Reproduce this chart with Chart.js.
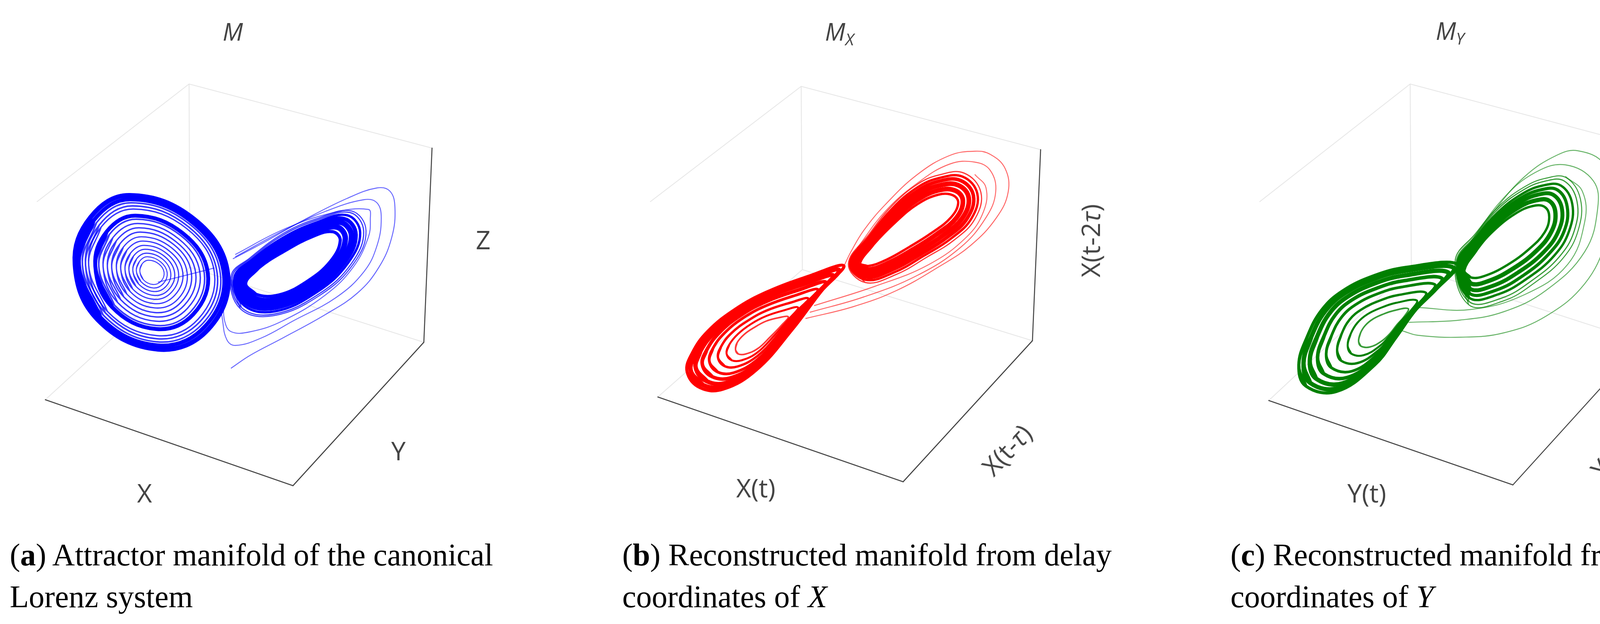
<!DOCTYPE html>
<html>
<head>
<meta charset="utf-8">
<script src="https://cdn.jsdelivr.net/npm/chart.js@4.4.1/dist/chart.umd.min.js"></script>
<style>
html,body{margin:0;padding:0;background:#fff;width:4427px;height:1597px;overflow:hidden;position:relative}
#wrap{position:absolute;left:0;top:0;width:4427px;height:1330px}
.lbl{position:absolute;font-family:"Open Sans",sans-serif;font-size:66px;color:#444;transform:translate(-50%,-50%);white-space:nowrap;line-height:1}
.ttl{position:absolute;font-family:"Open Sans",sans-serif;font-size:62px;color:#444;transform:translate(-50%,-50%);white-space:nowrap;line-height:1;font-style:italic}
.ttl .sub{font-size:0.68em;position:relative;top:0.28em}
.cap{position:absolute;top:1367px;font-family:"Liberation Serif","Times New Roman",serif;font-size:80px;line-height:107px;color:#000;white-space:nowrap}
</style>
</head>
<body>
<div id="wrap"><canvas id="c" width="4427" height="1330" style="width:4427px;height:1330px"></canvas></div>

<div class="ttl" style="left:596px;top:80px">M</div>
<div class="ttl" style="left:2149px;top:80px">M<span class="sub">X</span></div>
<div class="ttl" style="left:3712px;top:78px">M<span class="sub">Y</span></div>

<div class="lbl" style="left:1237px;top:612px">Z</div>
<div class="lbl" style="left:1020px;top:1152px">Y</div>
<div class="lbl" style="left:370px;top:1260px">X</div>

<div class="lbl" style="left:2790px;top:616px;transform:translate(-50%,-50%) rotate(-90deg)">X(t-2<i>τ</i>)</div>
<div class="lbl" style="left:2576px;top:1150px;transform:translate(-50%,-50%) rotate(-47deg)">X(t-<i>τ</i>)</div>
<div class="lbl" style="left:1935px;top:1247px">X(t)</div>

<div class="lbl" style="left:4347px;top:616px;transform:translate(-50%,-50%) rotate(-90deg)">Y(t-2<i>τ</i>)</div>
<div class="lbl" style="left:4134px;top:1158px;transform:translate(-50%,-50%) rotate(-47deg)">Y(t-<i>τ</i>)</div>
<div class="lbl" style="left:3499px;top:1260px">Y(t)</div>

<div class="cap" style="left:25px">(<b>a</b>) Attractor manifold of the canonical<br>Lorenz system</div>
<div class="cap" style="left:1593px">(<b>b</b>) Reconstructed manifold from delay<br>coordinates of <i>X</i></div>
<div class="cap" style="left:3150px">(<b>c</b>) Reconstructed manifold from delay<br>coordinates of <i>Y</i></div>

<script>
// ===== DATA (projected picture coordinates) =====
// box corners: top-back, top-left, top-right, right-bottom, front, left-bottom, back-bottom
const boxA = [[484,215],[95,516],[1106,379],[1085,876],[750,1243],[116,1023],[486,684]];
const boxB = [[2051,221],[1665,516],[2664,383],[2643,872],[2312,1233],[1684,1016],[2054,690]];
const boxC = [[3610,215],[3225,516],[4226,379],[4205,875],[3873,1241],[3248,1025],[3613,684]];

// Panel (a): left wing loops, outer to inner
const wingA1 = [
 [[192,676],[232,556],[332,500],[497,561],[583,700],[533,843],[405,894],[250,818]],
 [[202,677],[240,564],[335,510],[491,568],[573,700],[525,835],[404,884],[257,812]],
 [[211,678],[247,570],[337,519],[486,574],[564,700],[519,828],[403,875],[264,806]],
 [[219,679],[254,576],[340,527],[482,580],[556,700],[513,822],[402,867],[270,801]],
 [[227,679],[259,581],[342,535],[478,585],[549,699],[507,817],[402,859],[275,797]],
 [[244,681],[273,593],[347,552],[468,597],[532,699],[495,804],[400,842],[287,786]],
 [[253,682],[280,600],[349,561],[463,603],[523,699],[488,798],[400,833],[293,781]],
 [[264,683],[289,608],[353,572],[457,611],[512,699],[480,789],[399,822],[301,774]],
 [[275,685],[298,616],[356,583],[451,619],[501,699],[472,781],[398,811],[309,767]],
 [[286,686],[307,624],[359,594],[445,626],[490,699],[464,773],[397,800],[317,760]],
 [[298,687],[316,632],[362,606],[439,634],[479,698],[456,765],[396,788],[325,753]],
 [[309,688],[325,640],[366,617],[433,642],[468,698],[447,756],[395,777],[333,746]],
 [[320,690],[334,648],[369,628],[427,649],[457,698],[439,748],[394,766],[340,740]],
 [[330,691],[342,655],[372,638],[421,656],[447,698],[432,741],[394,756],[348,733]],
 [[340,692],[350,662],[375,648],[416,663],[437,698],[425,733],[393,746],[355,727]],
 [[349,693],[357,669],[377,657],[411,670],[428,698],[418,726],[392,737],[361,721]],
 [[358,694],[364,675],[380,666],[406,675],[420,697],[412,720],[391,728],[367,716]]
];
// Panel (a): right wing loops, inner to outer
const wingA2 = [
 [[629,725],[662,686],[729,642],[801,605],[852,593],[871,616],[846,669],[785,721],[714,755],[655,753]],
 [[621,721],[657,681],[728,633],[803,596],[862,581],[884,611],[858,670],[792,728],[711,766],[647,761]],
 [[613,716],[652,675],[727,623],[805,586],[872,569],[900,605],[871,671],[800,736],[708,778],[637,769]],
 [[606,713],[648,669],[726,615],[807,577],[881,560],[911,601],[882,672],[806,742],[705,788],[630,776]],
 [[600,710],[645,665],[725,608],[808,570],[889,551],[922,596],[891,673],[812,747],[703,797],[624,781]],
 [[595,707],[642,662],[724,602],[809,564],[896,544],[931,592],[900,674],[817,752],[701,804],[618,787]],
 [[592,705],[640,660],[724,598],[810,560],[900,540],[937,590],[905,675],[820,755],[700,808],[615,790]]
];
// Panel (a): open transient paths
const pathsA = [
 [[597,662],[669,624],[778,563],[888,508],[965,481],[998,489],[1011,530],[1003,607],[970,684],[915,750],[833,805],[724,865],[641,909],[592,942]],
 [[603,657],[724,591],[833,541],[932,511],[965,519],[976,558],[965,629],[932,695],[861,761],[751,821],[669,865],[603,884],[581,870],[570,821],[567,772],[585,720]],
 [[603,651],[724,588],[850,545],[943,536],[948,560],[943,607],[904,684],[833,755],[724,821],[641,849],[592,849],[575,821],[572,770]],
 [[405,722],[470,706],[548,686]]
];

// Panel (b): lower wing loops, inner to outer
const wingB1 = [
 [[1883,895],[1887,877],[1905,856],[1931,838],[1961,822],[1994,813],[2018,811],[2001,832],[1972,862],[1940,892],[1909,906],[1890,906]],
 [[1860,905],[1867,882],[1889,855],[1923,829],[1961,809],[2008,794],[2043,787],[2020,816],[1982,859],[1939,902],[1899,922],[1873,922]],
 [[1838,915],[1846,887],[1872,853],[1914,821],[1962,795],[2022,775],[2069,764],[2038,799],[1993,855],[1939,911],[1888,938],[1855,937]],
 [[1816,925],[1825,892],[1855,852],[1905,812],[1962,782],[2036,756],[2094,741],[2057,783],[2003,852],[1938,921],[1878,954],[1837,952]],
 [[1798,933],[1809,896],[1842,851],[1898,806],[1963,771],[2048,741],[2114,722],[2072,770],[2011,849],[1938,929],[1870,967],[1823,964]],
 [[1781,941],[1793,899],[1830,850],[1892,800],[1963,761],[2058,727],[2133,705],[2086,758],[2018,846],[1938,936],[1862,979],[1810,976]],
 [[1768,947],[1781,902],[1820,849],[1887,794],[1964,753],[2066,715],[2148,691],[2097,749],[2025,844],[1937,942],[1856,988],[1799,985]],
 [[1759,951],[1772,904],[1812,848],[1883,791],[1964,747],[2073,706],[2160,680],[2106,741],[2029,842],[1937,946],[1851,996],[1792,992]]
];
// Panel (b): upper wing loops, inner to outer
const wingB2 = [
 [[2202,673],[2237,625],[2293,568],[2348,523],[2403,498],[2440,500],[2453,520],[2434,557],[2385,596],[2328,632],[2269,665],[2221,681]],
 [[2195,674],[2234,620],[2291,559],[2348,512],[2403,487],[2446,488],[2465,514],[2448,558],[2397,600],[2338,638],[2274,673],[2220,690]],
 [[2188,674],[2230,614],[2288,549],[2348,499],[2403,475],[2453,474],[2480,507],[2463,559],[2412,604],[2349,644],[2280,682],[2218,700]],
 [[2182,674],[2227,610],[2287,540],[2348,489],[2403,464],[2459,462],[2492,501],[2476,559],[2424,608],[2358,650],[2285,690],[2217,709]],
 [[2176,675],[2225,606],[2285,533],[2348,480],[2403,456],[2464,452],[2502,496],[2487,559],[2434,611],[2366,654],[2289,697],[2216,716]],
 [[2172,675],[2223,602],[2284,526],[2348,472],[2403,448],[2468,443],[2511,492],[2496,560],[2443,614],[2373,658],[2293,703],[2215,723]]
];
const pathsB = [
 [[2063,815],[2184,785],[2294,744],[2403,683],[2485,628],[2551,557],[2581,491],[2573,431],[2535,395],[2496,387],[2431,398],[2348,447],[2266,524],[2211,590],[2178,645],[2162,678]],
 [[2074,799],[2211,760],[2348,705],[2458,634],[2524,557],[2549,491],[2535,436],[2496,415],[2431,420],[2348,469],[2266,541],[2195,634]],
 [[2085,782],[2239,733],[2376,678],[2474,607],[2518,541],[2524,480],[2496,447]]
];

// Panel (c): lower wing loops, inner to outer
const wingC1 = [
 [[3478,873],[3483,852],[3495,833],[3514,817],[3541,804],[3568,795],[3605,790],[3594,811],[3577,830],[3558,854],[3537,873],[3507,888],[3484,886]],
 [[3450,884],[3458,854],[3475,826],[3501,804],[3537,787],[3574,775],[3627,769],[3610,797],[3586,823],[3561,855],[3534,884],[3491,909],[3459,905]],
 [[3423,895],[3434,856],[3455,818],[3487,791],[3533,769],[3580,755],[3650,749],[3626,783],[3595,815],[3564,857],[3531,895],[3476,929],[3433,923]],
 [[3395,906],[3409,858],[3435,811],[3473,778],[3529,751],[3586,735],[3673,728],[3642,769],[3605,807],[3566,859],[3527,906],[3461,950],[3408,941]],
 [[3373,915],[3390,859],[3419,805],[3462,767],[3526,737],[3591,719],[3691,712],[3654,758],[3612,801],[3569,860],[3525,915],[3449,966],[3388,956]],
 [[3353,923],[3372,861],[3405,800],[3452,758],[3523,724],[3595,705],[3707,697],[3666,748],[3619,796],[3571,861],[3523,923],[3437,981],[3369,969]],
 [[3337,929],[3357,862],[3393,796],[3444,750],[3521,713],[3599,693],[3721,685],[3676,739],[3624,791],[3572,862],[3521,929],[3428,993],[3354,980]],
 [[3325,934],[3346,863],[3384,793],[3438,744],[3519,705],[3601,684],[3731,676],[3683,733],[3628,788],[3574,863],[3519,934],[3421,1002],[3343,988]]
];
// Panel (c): upper wing loops, inner to outer
const wingC2 = [
 [[3749,691],[3782,638],[3823,591],[3879,547],[3925,527],[3955,530],[3966,556],[3954,595],[3915,637],[3859,678],[3801,706],[3765,710]],
 [[3744,686],[3781,630],[3826,578],[3884,533],[3931,513],[3966,514],[3982,546],[3971,594],[3933,642],[3874,687],[3811,719],[3764,725]],
 [[3739,682],[3780,622],[3829,565],[3889,519],[3938,498],[3977,499],[3999,537],[3989,593],[3951,646],[3888,696],[3820,732],[3763,739]],
 [[3735,678],[3779,615],[3832,554],[3893,507],[3944,486],[3987,486],[4012,529],[4004,592],[3965,650],[3901,704],[3829,743],[3762,751]],
 [[3731,674],[3778,609],[3834,544],[3897,496],[3949,475],[3996,475],[4025,522],[4017,591],[3979,654],[3912,711],[3836,753],[3761,762]],
 [[3728,671],[3778,603],[3836,534],[3900,486],[3954,464],[4004,463],[4037,515],[4030,591],[3992,657],[3923,717],[3844,763],[3761,772]],
 [[3725,668],[3777,598],[3838,527],[3903,478],[3958,456],[4010,455],[4046,510],[4040,590],[4002,660],[3931,722],[3849,770],[3760,780]]
];
const pathsC = [
 [[3591,847],[3629,858],[3739,863],[3849,852],[3958,809],[4057,726],[4112,617],[4134,507],[4106,419],[4040,386],[3986,397],[3903,452],[3821,545],[3739,655]],
 [[3607,825],[3739,819],[3849,798],[3958,743],[4057,644],[4090,534],[4079,463],[4008,422],[3931,441],[3849,507],[3766,617]],
 [[3629,787],[3766,792],[3903,754],[4013,677],[4057,567],[4051,490],[4008,452]]
];

// ===== STYLE =====
const widthA1 = [12,10,4,4,3.5,10,4,3.5,3.5,3.5,3.2,3.2,3,3,2.8,2.6,2.4];
const widthA2 = [8,14,14,10,6,3,2.5];
const widthB1 = [4,5,6,7,9,11,11,8];
const widthB2 = [6,12,12,9,6,3];
const widthC1 = [4,5,6,7,9,11,11,8];
const widthC2 = [6,11,10,8,6,3,2.5];
const BLUE=[0,0,255], RED=[255,0,0], GREEN=[0,128,0];

function col(c,w){ const a = w>=5 ? 1 : 0.78; return `rgba(${c[0]},${c[1]},${c[2]},${a})`; }
function ds(pts, color, width, closed, tension){
  const p = closed ? [pts[pts.length-1], ...pts, pts[0], pts[1]] : pts;
  return { data: p.map(q=>({x:q[0],y:q[1]})), showLine:true, pointRadius:0, pointHoverRadius:0,
    borderColor:color, borderWidth:width, tension:tension, fill:false,
    borderCapStyle:'round', borderJoinStyle:'round' };
}
const datasets = [];
function addLoops(loops, widths, c, tension){
  loops.forEach((l,i)=>datasets.push(ds(l, col(c,widths[i]), widths[i], true, tension)));
}
function addPaths(paths, c){
  paths.forEach(p=>datasets.push(ds(p, `rgba(${c[0]},${c[1]},${c[2]},0.6)`, 2.4, false, 0.4)));
}
addLoops(wingA1, widthA1, BLUE, 0.4);
addLoops(wingA2, widthA2, BLUE, 0.4);
addPaths(pathsA, BLUE);
addLoops(wingB1, widthB1, RED, 0.4);
addLoops(wingB2, widthB2, RED, 0.4);
addPaths(pathsB, RED);
addLoops(wingC1, widthC1, GREEN, 0.4);
addLoops(wingC2, widthC2, GREEN, 0.4);
addPaths(pathsC, GREEN);

// box edges (drawn underneath: added last)
const lightEdges = [[0,1],[0,2],[0,6],[6,5],[6,3]];
const darkEdges = [[2,3],[3,4],[4,5]];
[boxA, boxB, boxC].forEach(b=>{
  darkEdges.forEach(e=>datasets.push(ds([b[e[0]],b[e[1]]], '#444', 2.6, false, 0)));
  lightEdges.forEach(e=>datasets.push(ds([b[e[0]],b[e[1]]], '#e6e6e6', 2.2, false, 0)));
});

new Chart(document.getElementById('c'), {
  type:'scatter',
  data:{datasets},
  options:{
    responsive:false, animation:false, devicePixelRatio:1, events:[],
    layout:{padding:0},
    plugins:{legend:{display:false}, tooltip:{enabled:false}},
    scales:{
      x:{type:'linear', min:0, max:4427, display:false},
      y:{type:'linear', min:0, max:1330, reverse:true, display:false}
    }
  }
});
</script>
</body>
</html>
